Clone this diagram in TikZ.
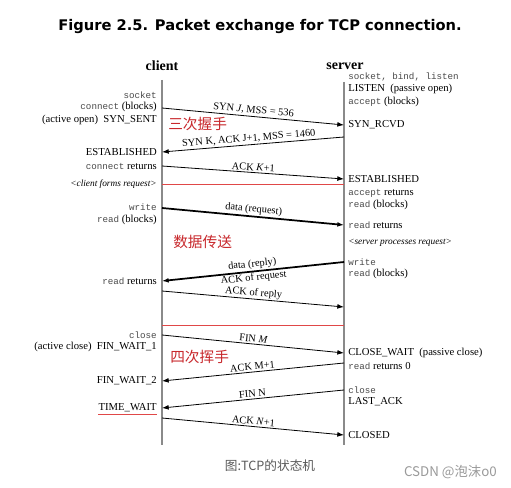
\documentclass[tikz,border=0pt]{standalone}
\usepackage{fontspec}
\setmainfont{Liberation Serif}
\setmonofont{Liberation Mono}
\newfontfamily\titlefont{DejaVu Sans}
\newfontfamily\cjk{Noto Sans CJK SC}
\usetikzlibrary{arrows.meta,positioning}
\definecolor{lifegray}{HTML}{8A8A8A}
\definecolor{sepred}{HTML}{E04848}
\definecolor{phasered}{HTML}{C8282C}
\definecolor{callgray}{HTML}{4A4A4A}
\definecolor{capgray}{HTML}{5A5A5A}
\definecolor{markgray}{HTML}{9A9A9A}
\newcommand{\callname}[1]{{\ttfamily\fontsize{6.9}{8}\selectfont\color{callgray}#1}}
\tikzset{
  lifeline/.style={
    draw=lifegray,
    line width=1.1pt
  },
  msg/.style={
    -{Latex[length=5pt,width=3.6pt]},
    line width=0.6pt
  },
  bigmsg/.style={
    msg,
    line width=1.3pt
  },
  cstate/.style={
    anchor=east,
    inner sep=0pt,
    font=\fontsize{8}{9}\selectfont
  },
  sstate/.style={
    anchor=west,
    inner sep=0pt,
    font=\fontsize{8}{9}\selectfont
  },
  comment/.style={
    inner sep=0pt,
    font=\itshape\fontsize{7}{8}\selectfont
  },
  msglabel/.style={
    sloped,
    above,
    inner sep=1.1pt,
    font=\fontsize{7.8}{9}\selectfont
  },
  phase/.style={
    anchor=west,
    inner sep=0pt,
    text=phasered,
    font=\cjk\fontsize{11}{12}\selectfont
  },
  sepline/.style={
    draw=sepred,
    line width=0.6pt
  },
  host/.style={
    inner sep=0pt,
    font=\bfseries\fontsize{10.5}{12}\selectfont
  }
}

\begin{document}
\begin{tikzpicture}[x=0.75pt,y=-0.75pt]
    \useasboundingbox[fill=white] (0,0) rectangle (511,488);
    \node[inner sep=0pt, font=\titlefont\bfseries\fontsize{11}{13}\selectfont] (title) at (260,27) {Figure 2.5. Packet exchange for TCP connection.};
    \node[host] (client) at (162,66) {client};
    \node[host] (server) at (345,66) {server};
    % lifelines
    \coordinate (ctop) at (162,80);
    \coordinate (cbot) at (162,445);
    \coordinate (stop) at (344,82);
    \coordinate (sbot) at (344,445);
    \draw[lifeline] (ctop) -- (cbot);
    \draw[lifeline] (stop) -- (sbot);
    % client side
    \node[cstate] (csock) at (157,95) {\callname{socket}};
    \node[cstate] (cconn) at (157,107) {\callname{connect} (blocks)};
    \node[cstate] (csent) at (157,120) {(active open)\enspace SYN\_SENT};
    \node[cstate] (cest) at (157,152) {ESTABLISHED};
    \node[cstate] (cret) at (157,166) {\callname{connect} returns};
    \node[comment, anchor=east] (creq) at (157,184) {\textless client forms request\textgreater};
    \node[cstate] (cwrite) at (157,207) {\callname{write}};
    \node[cstate] (cread) at (157,220) {\callname{read} (blocks)};
    \node[cstate] (crret) at (157,281) {\callname{read} returns};
    \node[cstate] (cclose) at (157,335) {\callname{close}};
    \node[cstate] (cfw1) at (157,347) {(active close)\enspace FIN\_WAIT\_1};
    \node[cstate] (cfw2) at (157,381) {FIN\_WAIT\_2};
    \node[cstate] (ctw) at (157,408) {TIME\_WAIT};
    \draw[sepline] ([yshift=-5pt]ctw.west) -- ([yshift=-5pt]ctw.east);
    % server side
    \node[sstate] (ssock) at (348,77) {\callname{socket, bind, listen}};
    \node[sstate] (slisten) at (348,89) {LISTEN\enspace(passive open)};
    \node[sstate] (sacc) at (348,102) {\callname{accept} (blocks)};
    \node[sstate] (srcvd) at (348,125) {SYN\_RCVD};
    \node[sstate] (sest) at (348,179) {ESTABLISHED};
    \node[sstate] (saret) at (348,193) {\callname{accept} returns};
    \node[sstate] (sread) at (348,205) {\callname{read} (blocks)};
    \node[sstate] (srret) at (348,225) {\callname{read} returns};
    \node[comment, anchor=west] (sproc) at (348,243) {\textless server processes request\textgreater};
    \node[sstate] (swrite) at (348,262) {\callname{write}};
    \node[sstate] (sread2) at (348,274) {\callname{read} (blocks)};
    \node[sstate] (scw) at (348,353) {CLOSE\_WAIT\enspace(passive close)};
    \node[sstate] (sret0) at (348,366) {\callname{read} returns 0};
    \node[sstate] (sclose) at (348,390) {\callname{close}};
    \node[sstate] (slast) at (348,402) {LAST\_ACK};
    \node[sstate] (sclosed) at (348,435) {CLOSED};
    % message end points on the lifelines
    \foreach \n/\cy/\sy in {1/108/125,2/152/137,3/166/179,4/208/225,5/281/262,
                             6/291/307,7/335/353,8/381/363,9/408/390,10/418/435} {
      \coordinate (c\n) at (162,\cy);
      \coordinate (s\n) at (344,\sy);
    }
    \draw[msg] (c1) -- node[msglabel] {SYN \textit{J}, MSS = 536} (s1);
    \draw[msg] (s2) -- node[msglabel, pos=0.52] {SYN K, ACK J+1, MSS = 1460} (c2);
    \draw[msg] (c3) -- node[msglabel] {ACK \textit{K}+1} (s3);
    \draw[bigmsg] (c4) -- node[msglabel] {data (request)} (s4);
    \draw[bigmsg] (s5) -- node[msglabel] {data (reply)}
                          node[msglabel, below, inner sep=0.6pt] {ACK of request} (c5);
    \draw[msg] (c6) -- node[msglabel, inner sep=0.6pt] {ACK of reply} (s6);
    \draw[msg] (c7) -- node[msglabel] {FIN \textit{M}} (s7);
    \draw[msg] (s8) -- node[msglabel] {ACK M+1} (c8);
    \draw[msg] (s9) -- node[msglabel] {FIN N} (c9);
    \draw[msg] (c10) -- node[msglabel] {ACK \textit{N}+1} (s10);
    % red marks
    \coordinate (sep2) at (162,325);
    \draw[sepline] (ctop |- creq) -- (stop |- creq);
    \draw[sepline] (sep2) -- (stop |- sep2);
    \node[phase] (hs) at (168,124) {三次握手};
    \node[phase] (dt) at (173,242) {数据传送};
    \node[phase] (wv) at (170,357) {四次挥手};
    % caption
    \node[inner sep=0pt, text=capgray, font=\cjk\fontsize{9.5}{11}\selectfont] (cap) at (270,466) {图:TCP的状态机};
    \node[inner sep=0pt, anchor=east, text=markgray, font=\cjk\fontsize{10}{11}\selectfont] (mark) at (497,472) {CSDN @泡沫o0};
  \end{tikzpicture}
\end{document}
